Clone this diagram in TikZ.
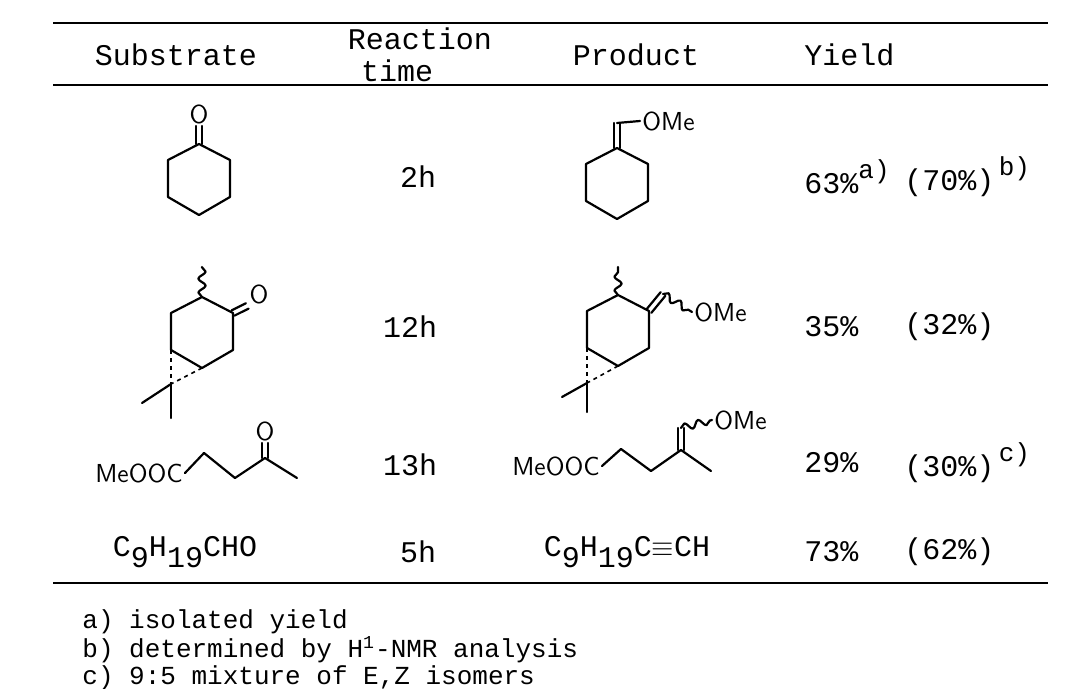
\documentclass[tikz,border=0pt]{standalone}
\usepackage{fontspec}
\setmonofont{Liberation Mono}
\usetikzlibrary{calc,decorations.pathmorphing}

\tikzset{
    bond/.style={line width=1.1pt, line cap=round, line join=round},
    wavy/.style={bond, decorate, decoration={snake, amplitude=1.8pt, segment length=7pt}},
    hashed/.style={line width=0.8pt, dash pattern=on 2pt off 2pt},
    rule/.style={line width=1pt},
    cell/.style={font=\ttfamily\fontsize{15}{16}\selectfont, inner sep=1pt},
    atom/.style={font=\sffamily\fontsize{13}{14}\selectfont, inner sep=1pt},
    note/.style={font=\ttfamily\fontsize{13}{14}\selectfont, anchor=west, inner sep=0pt}
}

% lowered digits as in the typed table
\newcommand\lowd[1]{\raisebox{-0.35em}{#1}}
% raised notes
\newcommand\upn[1]{\raisebox{0.5em}{\fontsize{13}{14}\selectfont#1}}

% double bond between two named points
\newcommand\dblbond[2]{%
    \draw[bond] ($(#1)!1.5pt!90:(#2)$) -- ($(#2)!1.5pt!-90:(#1)$);
    \draw[bond] ($(#1)!1.5pt!-90:(#2)$) -- ($(#2)!1.5pt!90:(#1)$);}

% six-membered ring, top vertex at (#2,#3)
\newcommand\hexring[3]{%
    \coordinate (#1a) at (#2,#3);
    \coordinate (#1b) at (#2-31,#3+16);
    \coordinate (#1c) at (#2-31,#3+53);
    \coordinate (#1d) at (#2,#3+71);
    \coordinate (#1e) at (#2+31,#3+53);
    \coordinate (#1f) at (#2+31,#3+16);
    \draw[bond] (#1a) -- (#1b) -- (#1c) -- (#1d) -- (#1e) -- (#1f) -- cycle;}

\begin{document}
\begin{tikzpicture}[x=0.5pt, y=-0.5pt]
    \useasboundingbox (0,0) rectangle (1080,689);

    % Table rules
    \draw[rule] (53,23) -- (1048,23);
    \draw[rule] (53,85) -- (1048,85);
    \draw[rule] (53,583) -- (1048,583);

    % Header
    \node[cell] (hsub)  at (176,55) {Substrate};
    \node[cell] (hreac) at (420,39) {Reaction};
    \node[cell] (htime) at (397,71) {time};
    \node[cell] (hprod) at (636,55) {Product};
    \node[cell, anchor=west] (hyld) at (802,55) {Yield};

    % Row 1: cyclohexanone
    \hexring{sa}{199}{144}
    \node[atom] (oa) at (199,114) {O};
    \dblbond{saa}{oa.south}
    \hexring{pa}{617}{148}
    \coordinate (pax) at (617,123);
    \dblbond{paa}{pax}
    \node[atom, anchor=west] (omea) at (640,121) {OMe};
    \draw[bond] (pax) -- (omea.west);
    \node[cell] (ta) at (418,177) {2h};
    \node[cell, anchor=west] (ya1) at (802,177) {63\%\upn{a)}};
    \node[cell, anchor=west] (ya2) at (902,177) {(70\%)\upn{\,b)}};

    % Row 2: substituted cyclohexanone
    \hexring{sb}{202}{297}
    \node[atom] (ob) at (259,294) {O};
    \dblbond{sbf}{ob.south west}
    \draw[wavy] (sba) -- ++(0,-30);
    \coordinate (isob) at (171,384);
    \draw[hashed] (sbc) -- (isob);
    \draw[hashed] (sbd) -- (isob);
    \draw[bond] (isob) -- ++(0,34);
    \draw[bond] (isob) -- ++(-29,19);
    \hexring{pb}{618}{295}
    \coordinate (pbx) at (663,294);
    \dblbond{pbf}{pbx}
    \node[atom, anchor=west] (omeb) at (692,312) {OMe};
    \draw[wavy] (pbx) -- (omeb.west);
    \draw[wavy] (pba) -- ++(0,-28);
    \coordinate (isopb) at (587,383);
    \draw[hashed] (pbc) -- (isopb);
    \draw[hashed] (pbd) -- (isopb);
    \draw[bond] (isopb) -- ++(0,29);
    \draw[bond] (isopb) -- ++(-25,14);
    \node[cell] (tb) at (410,327) {12h};
    \node[cell, anchor=west] (yb1) at (802,327) {35\%};
    \node[cell, anchor=west] (yb2) at (902,327) {(32\%)};

    % Row 3: keto ester
    \node[atom, anchor=east] (esc) at (185,473) {MeOOC};
    \coordinate (sc1) at (204,453);
    \coordinate (sc2) at (235,478);
    \coordinate (scc) at (265,458);
    \coordinate (scm) at (297,478);
    \draw[bond] (esc.east) -- (sc1) -- (sc2) -- (scc) -- (scm);
    \node[atom] (oc) at (265,431) {O};
    \dblbond{scc}{oc.south}
    \node[atom, anchor=east] (epc) at (602,466) {MeOOC};
    \coordinate (pc1) at (621,449);
    \coordinate (pc2) at (651,471);
    \coordinate (pcc) at (681,450);
    \coordinate (pcm) at (711,471);
    \draw[bond] (epc.east) -- (pc1) -- (pc2) -- (pcc) -- (pcm);
    \coordinate (pcx) at (681,428);
    \dblbond{pcc}{pcx}
    \node[atom, anchor=west] (omec) at (712,420) {OMe};
    \draw[wavy] (pcx) -- (omec.west);
    \node[cell] (tc) at (410,465) {13h};
    \node[cell, anchor=west] (yc1) at (802,463) {29\%};
    \node[cell, anchor=west] (yc2) at (902,463) {(30\%)\upn{\,c)}};

    % Row 4: aldehyde
    \node[cell] (sd) at (185,552) {C\lowd{9}H\lowd{19}CHO};
    \node[cell] (td) at (418,552) {5h};
    \node[cell] (pd) at (627,552) {C\lowd{9}H\lowd{19}C$\equiv$CH};
    \node[cell, anchor=west] (yd1) at (802,552) {73\%};
    \node[cell, anchor=west] (yd2) at (902,552) {(62\%)};

    % Footnotes
    \node[note] (na) at (82,622) {a) isolated yield};
    \node[note] (nb) at (82,650) {b) determined by H\textsuperscript{1}-NMR analysis};
    \node[note] (nc) at (82,678) {c) 9:5 mixture of E,Z isomers};

\end{tikzpicture}
\end{document}
